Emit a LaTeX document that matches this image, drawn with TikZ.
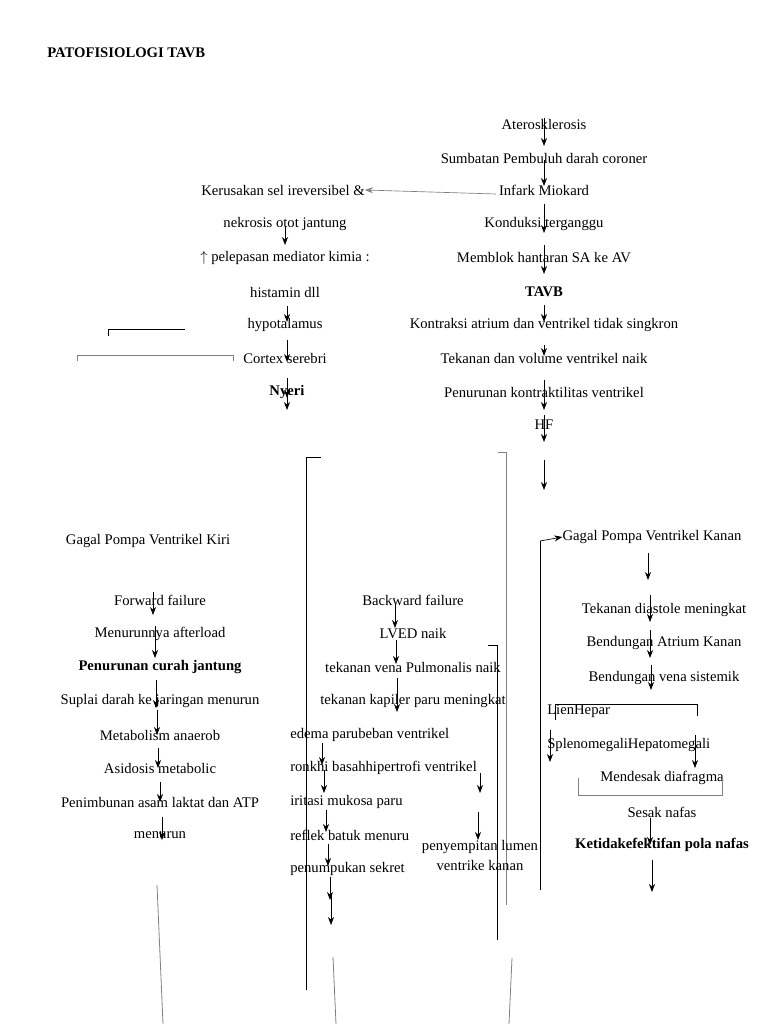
\documentclass[tikz,border=0pt]{standalone}
\usepackage{fontspec}
\setmainfont{Liberation Serif}
\usetikzlibrary{arrows.meta}
\begin{document}
\begin{tikzpicture}[x=0.75pt,y=-0.75pt,
  t/.style={inner sep=0pt,font=\fontsize{11}{13}\selectfont},
  tl/.style={t,anchor=west},
  b/.style={t,font=\fontsize{11}{13}\selectfont\bfseries},
  ar/.style={-{Stealth[length=6pt,width=4.5pt]},line width=0.5pt},
  ln/.style={line width=0.6pt},
  gl/.style={line width=0.6pt,gray}]
\useasboundingbox (0,0) rectangle (768,1024);
\node[b,anchor=west] (title) at (47,53) {PATOFISIOLOGI TAVB};
% right top column
\node[t] (a1) at (544,124) {Aterosklerosis};
\node[t] (a2) at (544,158) {Sumbatan Pembuluh darah coroner};
\node[t] (a3) at (544,190) {Infark Miokard};
\node[t] (a4) at (544,224) {Konduksi terganggu};
\node[t] (a5) at (544,258) {Memblok hantaran SA ke AV};
\node[b] (a6) at (544,292) {TAVB};
\node[t] (a7) at (544,325) {Kontraksi atrium dan ventrikel tidak singkron};
\node[t] (a8) at (544,358) {Tekanan dan volume ventrikel naik};
\node[t] (a9) at (544,392) {Penurunan kontraktilitas ventrikel};
\node[t] (a10) at (544,425) {HF};
\foreach \ya/\yb in {118/146,160/186,204/233,245/274,305/322,345/356,380/410,415/442,460/490}
  \draw[ar] (544,\ya) -- (544,\yb);
% left top
\node[t] (k1) at (283,190) {Kerusakan sel ireversibel \&};
\node[t] (k2) at (285,224) {nekrosis otot jantung};
\node[t] (k3) at (285,258) {$\uparrow$ pelepasan mediator kimia :};
\node[t] (k4) at (285,292) {histamin dll};
\node[t] (k5) at (285,325) {hypotalamus};
\node[t] (k6) at (285,358) {Cortex serebri};
\node[b] (k7) at (287,392) {Nyeri};
\coordinate (infs) at (496,194);
\draw[ar,gray] (infs) -- (k1.east);
\foreach \x/\ya/\yb in {285/226/245,287/306/322,287/340/362,287/378/398,287/385/410}
  \draw[ar] (\x,\ya) -- (\x,\yb);
\draw[ln] (108,336) -- (108,329) -- (185,329);
\draw[gl] (77,361) -- (77,355) -- (233,355) -- (233,361);
% long bracket lines
\draw[ln] (321,457) -- (306,457) -- (306,990);
\draw[gl] (498,452) -- (506,452) -- (506,905);
\draw[ln] (488,645) -- (497,645) -- (497,940);
\draw[gl] (157,885) -- (163,1024);
\draw[gl] (333,957) -- (336,1024);
\draw[gl] (512,958) -- (509,1024);
% left lower column
\node[t] (l0) at (148,541) {Gagal Pompa Ventrikel Kiri};
\node[t] (l1) at (160,600) {Forward failure};
\node[t] (l2) at (160,634) {Menurunnya afterload};
\node[b] (l3) at (160,667) {Penurunan curah jantung};
\node[t] (l4) at (160,701) {Suplai darah ke jaringan menurun};
\node[t] (l5) at (160,735) {Metabolism anaerob};
\node[t] (l6) at (160,768) {Asidosis metabolic};
\node[t] (l7) at (160,802) {Penimbunan asam laktat dan ATP};
\node[t] (l8) at (160,835) {menurun};
\foreach \x/\ya/\yb in {153/592/615,155/626/658,156/680/708,157/710/735,158/748/768,160/782/802,162/817/840}
  \draw[ar] (\x,\ya) -- (\x,\yb);
% middle column
\node[t] (m1) at (413,600) {Backward failure};
\node[t] (m2) at (413,634) {LVED naik};
\node[t] (m3) at (413,667) {tekanan vena Pulmonalis naik};
\node[t] (m4) at (413,701) {tekanan kapiler paru meningkat};
\node[tl] (m5) at (290,735) {edema parubeban ventrikel};
\node[tl] (m6) at (290,768) {ronkhi basahhipertrofi ventrikel};
\node[tl] (m7) at (290,802) {iritasi mukosa paru};
\node[tl] (m8) at (290,835) {reflek batuk menuru};
\node[tl] (m9) at (290,869) {penumpukan sekret};
\node[t,align=center,font=\fontsize{11}{15}\selectfont] (p1) at (480,855) {penyempitan lumen\\ventrike kanan};
\foreach \x/\ya/\yb in {395/605/628,396/640/664,397/678/712,322/743/765,324/770/793,326/810/832,328/844/866,330/877/900,331/893/925,480/773/793,478/812/840}
  \draw[ar] (\x,\ya) -- (\x,\yb);
% right lower column
\node[t] (r0) at (652,537) {Gagal Pompa Ventrikel Kanan};
\node[t] (r1) at (664,610) {Tekanan diastole meningkat};
\node[t] (r2) at (664,643) {Bendungan Atrium Kanan};
\node[t] (r3) at (664,678) {Bendungan vena sistemik};
\node[tl] (r4) at (547,711) {LienHepar};
\node[tl] (r5) at (547,745) {SplenomegaliHepatomegali};
\node[t] (r6) at (662,778) {Mendesak diafragma};
\node[t] (r7) at (662,812) {Sesak nafas};
\node[b] (r8) at (662,845) {Ketidakefektifan pola nafas};
\coordinate (kb) at (540,890);
\coordinate (kt) at (540,541);
\draw[ln] (kb) -- (kt);
\draw[ar] (kt) -- (r0.west);
\foreach \x/\ya/\yb in {648/553/580,650/595/622,650/630/658,651/665/690,550/730/762,695/735/768,650/818/845,652/860/892}
  \draw[ar] (\x,\ya) -- (\x,\yb);
\draw[ln] (555,720) -- (555,704) -- (697,704) -- (697,716);
\draw[gl] (578,778) -- (578,795) -- (722,795) -- (722,780);
\end{tikzpicture}
\end{document}
